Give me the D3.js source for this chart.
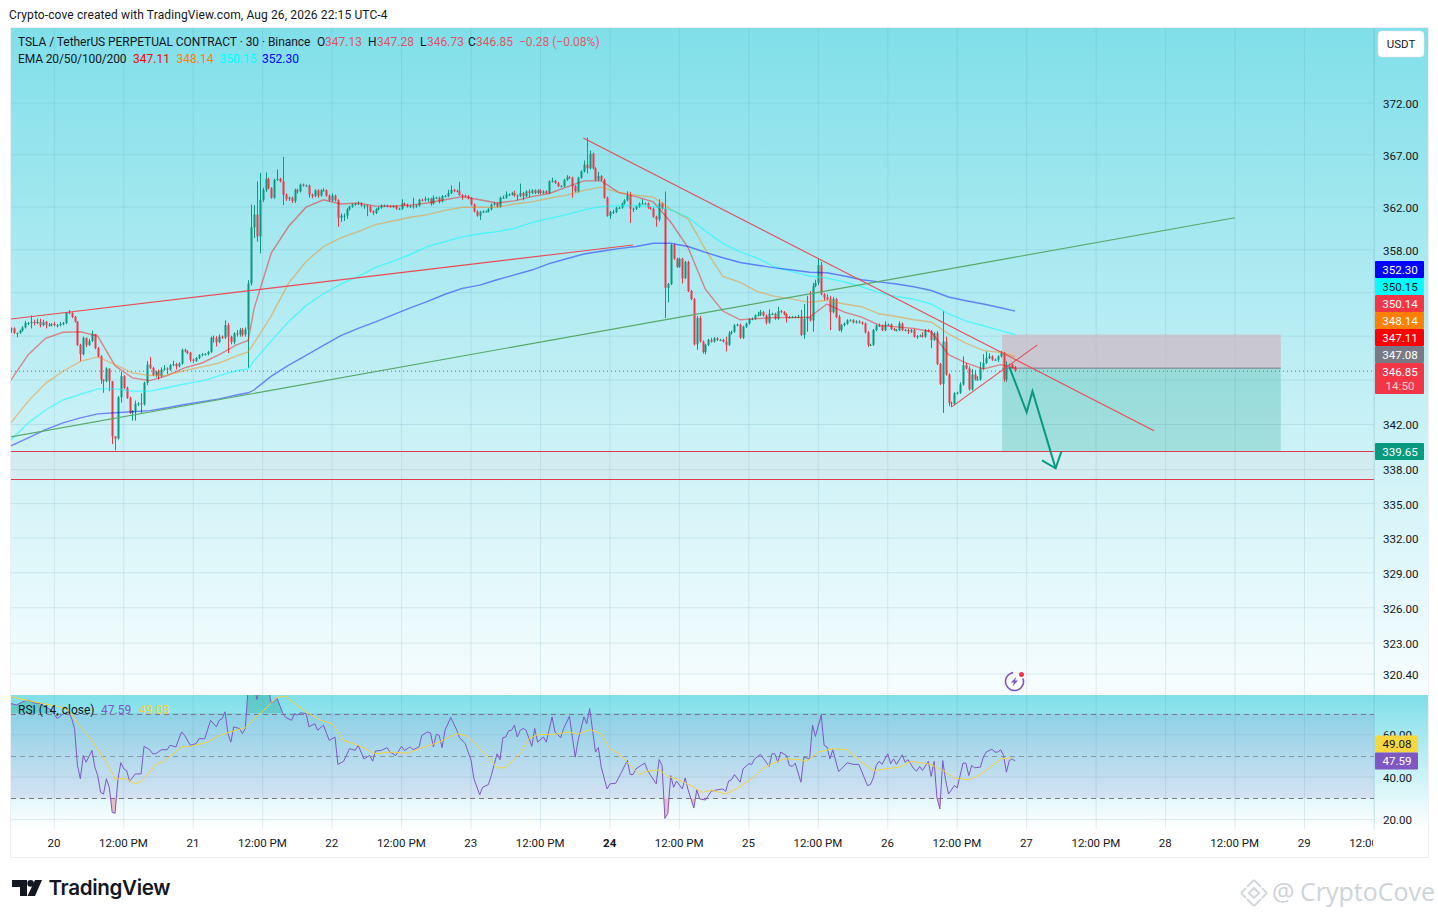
<!DOCTYPE html>
<html><head><meta charset="utf-8">
<script src="https://cdn.jsdelivr.net/npm/d3@7/dist/d3.min.js"></script>
<style>
html,body{margin:0;padding:0;background:#fff}
svg{display:block}
text{font-family:Roboto,"Liberation Sans",sans-serif;font-size:12px;fill:#131722}
</style></head><body><svg id="c" width="1438" height="918"></svg>
<script>
// ---- DATA ----
const firstBarTime = Date.UTC(2026,7,19,16,30);
const firstOpen = 350.6;
const closes = [
350.7,350.3,350.3,350.5,350.8,351.2,351.2,351.3,351.2,351.3,
351.0,351.3,351.0,351.0,351.1,351.0,351.0,351.1,351.2,352.2,
352.1,351.75,351.35,349.2,348.35,349.85,349.2,349.55,350.2,348.9,
348.15,346.05,345.9,347.05,345.9,340.95,340.75,344.45,346.35,345.3,
344.4,343.05,343.2,343.85,343.9,343.8,345.75,347.4,347.1,346.45,
346.75,346.35,346.95,347.05,346.95,347.35,347.45,347.25,347.5,348.75,
348.6,348.45,347.85,347.75,348,348.25,348.35,348.35,348.55,349.85,
349.8,349.45,349.95,349.85,351,349.95,349.45,350.25,350.15,350.55,
350.15,350.6,354.85,360.1,361.3,359.25,362.7,363.65,364.7,363.8,
362.9,364.6,364.7,364.45,363.2,362.8,362.9,362.6,363.65,363.5,
364.15,364.05,364.05,363.2,363.05,363.6,363.1,363.6,363.6,363.1,
362.65,363.1,362.65,361,361.2,361.2,361.8,362.05,362.25,362.3,
362.35,362.15,362.15,362.05,361.6,361.45,361.8,361.95,362.15,362.15,
362.1,362.05,362.1,361.85,361.85,362.35,362.25,362.05,362.1,362.05,
362.15,362.7,362.65,362.8,362.8,362.35,362.9,362.9,362.55,363.05,
363.05,363.35,363.65,363.55,363.5,363.15,363.1,363.05,362.85,362.25,
361.6,361.2,361.55,361.6,361.6,361.8,362.25,362.35,362.05,362.9,
362.9,363.2,363.2,363.35,363.1,363.05,363.35,363.05,363.5,363.35,
363.6,363.35,363.6,363.35,363.5,363.35,364.45,364.5,364.3,364,
364,364.6,364.85,364.8,364,363.5,364.8,365.4,366.05,365.7,
367.1,365.7,364.6,364.95,364.6,362.9,361.2,361.55,361.55,361.95,
361.95,362.35,362.65,363.1,361.85,361.85,362.05,362.35,362.35,362.35,
361.95,361.85,361.1,360.85,362.35,361.85,354.45,354.8,358.45,357.15,
356.4,357.15,355.35,356.85,354.15,353.4,349.25,351.65,349.5,348.55,
349.2,349.65,349.5,349.8,349.65,349.65,349.5,349.2,350.25,350.4,
351,351.05,349.85,350.85,351.15,351.55,351.6,351.9,351.95,352.2,
351.9,351.25,352.05,352.05,351.6,352.3,352.2,352,351.7,351.75,
351.75,351.75,351.75,350.1,351.6,351.75,351.45,354.6,354.9,356.55,
353.85,353.55,353.4,352.2,353.4,351.75,350.55,351,351.15,351.45,
351.45,351.25,351.35,351.25,351.15,350.35,349.2,349.2,350.55,350.95,
350.95,350.55,351.05,351.05,350.65,350.55,350.55,351.15,350.55,350.55,
350.4,350.55,349.95,350,350.05,349.95,350.55,350.45,349.65,350.25,
347.45,345.65,349.5,346.5,343.95,343.85,344.8,344.85,345.6,347.35,
347.05,345.15,346.5,346.05,346.05,347.05,347.55,348,348.15,347.85,
347.85,348.15,348.45,346.05,347.4,347.4,347.13,346.85];
const upperWicks = [
.1,.1,0,.1,.1,.2,.1,.6,.2,.3,
.3,.2,.1,.2,.1,.2,.1,.2,.1,0,
.2,.1,.1,0,.1,.1,0,.2,.3,0,
.1,.1,0,.1,0,0,0,.1,.4,.1,
.1,.1,.1,.3,.1,.9,.1,.3,.7,.1,
.1,.2,.2,.3,.1,.1,.3,.1,.1,.1,
.1,.1,.1,.1,.1,.1,.1,.1,.1,.1,
.2,.2,.2,.1,.45,.2,.1,.1,.3,.2,
.2,.2,.3,2.15,.9,3.15,2.55,.2,.6,.1,
.1,.1,.9,.1,2.35,.1,.1,.1,.1,.1,
.1,.1,.1,.1,.1,.1,.1,.1,.2,.1,
.1,.2,.1,.1,.2,.2,.1,.1,.1,.1,
.2,.1,.1,.1,.1,.1,.1,.1,.1,.1,
.1,.1,.1,.1,.1,.4,.1,.1,.1,.8,
.1,.1,.1,.2,.1,.1,.2,.1,.1,.1,
.1,.3,.4,.1,.1,.9,.1,.1,.1,.1,
.1,.1,.1,.1,.1,.1,.1,.1,.1,.1,
.2,.3,.1,.1,.2,.1,.9,.1,.1,.2,
.1,.1,.1,.1,.1,.1,.1,.3,.1,.1,
.1,.1,.2,.1,.1,.1,.1,.1,.4,2.6,
.3,.1,.1,.4,.1,.1,.1,.1,.2,.1,
.1,.1,.1,.4,.35,.1,.1,.1,.4,.1,
.1,.1,.1,.1,.4,.1,1.65,.1,.1,.1,
.1,.1,.1,.1,.1,.1,.1,.2,.2,.1,
.1,.1,.2,.1,.1,.1,.1,.45,.2,.1,
.1,.1,.1,.1,.1,.1,.1,.1,.3,.2,
.1,.1,.4,.1,.1,.4,.1,.1,.1,.1,
.1,.1,.2,.65,1.35,1.95,2.4,.3,.3,.6,
.3,.1,.3,.3,.2,.1,.2,.1,.1,.1,
.1,.1,.1,.1,.1,.1,.1,.1,.1,.1,
.2,.1,.3,.1,.1,.1,.1,.2,.1,.1,
.1,.1,.1,.1,.1,.3,.1,.1,.1,.1,
.2,.1,2.8,.45,.1,.1,.1,.1,.2,.8,
.2,.2,.5,.4,.3,.6,.8,.6,.3,.1,
.1,.1,.2,.1,.3,.1,.1,.15];
const lowerWicks = [
.3,.1,.4,.1,.1,.1,.2,.5,.2,.1,
.2,.1,.3,.1,.1,.1,.2,.1,.1,.1,
.1,.1,.1,.1,.65,.1,.2,.1,.1,.1,
.1,.4,1.05,.1,.9,.7,1.05,.1,.5,.1,
.1,.1,.7,.85,.2,.8,.1,.2,.1,.1,
.2,.3,.1,.1,.4,.1,.1,.3,.1,.1,
.1,.1,.2,.2,.1,.1,.1,.1,.1,.1,
.4,.4,.1,.1,.1,1.5,.2,.2,.2,.2,
.2,.2,3.5,.2,1,.5,1.6,.2,.2,.1,
.1,.1,.1,.1,1,.2,.2,.2,.2,.2,
.1,.1,.1,.3,.2,.1,.2,.1,.1,.1,
.1,.1,.1,.85,.4,.5,.3,.1,.1,.1,
.1,.1,.3,.9,.1,.2,.1,.1,.1,.1,
.1,.1,.1,.1,.1,.1,.1,.1,.1,.2,
.1,.1,.1,.1,.3,.2,.1,.1,.2,.1,
.1,.1,.1,.1,.1,.1,.4,.1,.1,.1,
.1,.1,.4,.1,.1,.1,.1,.1,.1,.1,
.1,.1,.1,.1,.1,.4,.1,.4,.1,.4,
.1,.1,.1,.1,.1,.1,.1,.1,.1,.1,
.1,.1,.1,.1,1.1,.1,.1,.1,.1,.5,
.1,.1,.1,.1,.1,.1,.1,.3,.2,.1,
.1,.1,.1,.1,1.35,.3,.1,.1,.1,.1,
.1,.1,.1,.7,.2,.1,2.8,1.35,.1,.1,
.1,.1,.5,.1,.1,.1,.1,.5,.1,.15,
.2,.1,.1,.1,.1,.1,.1,.6,.1,.1,
.1,.1,.1,.1,.1,.1,.1,.1,.1,.1,
.1,.2,.1,.1,.1,.1,.1,.1,.45,.1,
.1,.1,.1,.1,.35,1.2,.1,1.05,.1,.2,
.1,.3,.1,1.65,.1,.1,.1,.2,.1,.1,
.1,.1,.1,.1,.1,.1,.2,.1,.1,.1,
.1,.1,.1,.1,.1,.1,.1,.1,.1,.1,
.2,.1,.1,.2,.1,.1,.1,.1,.75,.1,
.1,.1,2.6,.1,.3,.3,.1,.1,.1,.1,
.1,.1,.1,.1,.1,.1,.1,.1,.1,.1,
.1,.2,.1,.2,.2,.1,.1,.12];

const emaBars = [0,6,12,18,24,30,36,42,48,54,60,66,72,78,82,84,90,96,102,108,114,120,126,132,138,144,150,156,162,168,174,180,186,192,198,204,210,216,222,228,234,240,246,252,258,264,270,276,282,288,294,300,306,312,318,324,330,336,342,347];
const ema20 = [346.0,348.3,349.8,350.35,350.4,350.0,347.3,346.2,345.95,346.4,347.1,347.55,348.3,349.2,349.6,352.5,357.7,360.2,362,362.7,362.3,362.4,362.1,362.1,362.2,362.4,362.7,363,362.7,362.4,362.6,363,363.3,363.9,364.5,364.5,363.4,363,362.5,360.6,358.2,354.3,352.3,351.5,351.6,351.7,351.7,351.75,352.95,352.2,351.75,351,350.85,350.7,350.4,348.3,347.55,347,347.4,347.11];
const ema50 = [342.15,344.1,345.7,346.8,347.7,348.1,347.4,346.65,346.4,346.45,346.85,347.2,347.55,348.2,348.55,349.35,351.85,354.9,356.9,358.3,359.1,359.7,360.35,360.7,361.05,361.3,361.7,362,362,362,362.3,362.5,362.85,363.15,363.6,363.9,363.4,363.15,362.95,361.8,360.9,358,355.5,354.95,354.1,353.65,353.4,353.1,353.3,352.95,352.7,352.05,351.8,351.5,351.3,350.2,349.35,348.7,348.5,348.14];
const ema100 = [340.6,342.15,343.3,344.2,344.7,345.2,345.2,345,345,345.3,345.65,345.9,346.4,346.85,347,347.75,349.55,351.35,352.8,353.9,354.8,355.5,356.35,356.9,357.55,358.3,358.75,359.2,359.5,359.7,360,360.55,360.95,361.3,361.75,362.05,362.15,362.15,362.05,361.75,361.05,359.75,358.6,357.8,357.2,356.4,355.95,355.55,355.35,355,354.55,354,353.65,353.4,352.95,352.05,351.4,350.95,350.5,350.15];
const ema200 = [340.1,340.8,341.55,342.15,342.6,342.95,343.05,343.15,343.25,343.5,343.8,344.05,344.3,344.65,344.85,345.1,346.35,347.35,348.25,349.15,350.05,350.7,351.3,351.95,352.6,353.2,353.85,354.4,354.7,355.2,355.65,356.1,356.7,357.15,357.6,357.85,358.1,358.3,358.6,358.6,358.3,357.75,357.25,356.8,356.55,356.3,356.1,355.9,355.85,355.55,355.2,355,354.8,354.55,354.2,353.6,353.25,352.95,352.6,352.3];
const emaColors = ["#ff0000","#ff8000","#00ffff","#0000ff"];

const rsiPoints = [[0,74.7],[2,74],[4,75.5],[6,76.3],[8,75],[10,74.7],[12,73.1],[14,71.6],[16,67.6],[18,69.7],[20,70.8],[21,67.6],[22,62.9],[23,45.5],[24,39.2],[25,50.2],[26,47],[28,52.6],[29,44.7],[30,40.7],[31,32.8],[32,32],[33,39.2],[34,35.2],[35,23.4],[36,22.9],[37,39.2],[38,46.8],[39,43.9],[40,43.1],[41,38],[43,41.5],[45,41.5],[46,54.5],[48,52.9],[49,51],[50,51],[52,52.9],[54,52.9],[55,55],[57,54.2],[59,61.3],[60,59.7],[62,55],[64,55.8],[65,58.1],[67,58.1],[69,66.8],[71,63.7],[72,66.8],[73,67.6],[74,70.8],[75,60.5],[76,56.5],[77,63.7],[79,62.9],[80,60.5],[81,62.9],[82,82.6],[83,85.8],[84,83.4],[85,76.6],[86,81.8],[87,81],[88,83.4],[89,81],[90,74.7],[92,77.1],[94,70],[95,68.1],[97,66.8],[98,70],[99,69.2],[100,70.3],[102,70],[103,63.7],[105,65.2],[106,62.1],[108,64.5],[110,57.3],[112,58.9],[113,46],[115,47.5],[117,53.4],[119,52.6],[120,55],[122,48.6],[124,50.2],[125,47.5],[126,52.3],[128,52.6],[130,53.9],[131,51.8],[133,50.2],[135,54.5],[136,52.6],[138,54.2],[139,52.9],[141,54.2],[142,59.7],[144,61.3],[145,60.8],[146,54.2],[147,60.2],[148,59.7],[149,53.9],[150,62.1],[152,68.1],[154,62.4],[155,58.6],[157,55.8],[159,47.9],[160,39.2],[162,31.7],[163,35.2],[165,36.5],[166,40.7],[168,51],[169,48.2],[170,58.6],[171,58.9],[172,61.8],[173,62.1],[174,64.5],[175,58.9],[176,62.1],[177,62.9],[178,62.1],[180,54.5],[181,62.9],[182,56.5],[184,58.9],[185,56.5],[187,68.4],[188,61.3],[190,58.6],[191,62.9],[193,68.7],[195,49.4],[196,57.3],[198,68.4],[199,65.2],[200,72.3],[202,51.8],[203,53.9],[204,44.7],[206,34.4],[207,36.8],[209,37.1],[211,42.3],[213,47.9],[214,41.2],[215,41.2],[216,43.9],[219,46.6],[220,43.1],[223,36.8],[224,48.3],[225,45.5],[226,20.5],[227,22.9],[228,40.7],[229,35.2],[230,38.1],[232,34.4],[233,39.6],[234,34],[236,25.4],[237,34],[238,29.7],[240,29.2],[242,33.3],[244,34],[246,34.4],[247,33.3],[248,38.1],[249,38.7],[250,41.2],[252,37.6],[253,43.9],[255,46.3],[256,46],[257,48.6],[259,50.7],[261,47],[262,45],[263,51],[264,51],[265,47],[266,51.8],[268,50.2],[269,45.5],[270,45],[271,46.6],[273,37.6],[274,49.4],[276,48.6],[277,64.5],[278,59.2],[280,69.2],[281,55],[282,54.2],[283,48.6],[284,52.9],[286,42.6],[287,43.9],[289,46.8],[291,46],[293,46],[296,36],[297,36.5],[298,39.6],[299,45.5],[300,47.5],[301,46],[303,51],[304,46.3],[305,48.6],[306,46],[308,50.5],[309,47],[310,48.2],[312,43.9],[313,42.8],[314,45],[315,43.1],[317,47.4],[318,40.3],[319,47.4],[320,30.2],[321,25],[322,47.8],[323,38.4],[324,32],[326,36],[327,34.9],[329,46.6],[330,46.6],[331,40.7],[332,45.5],[333,44.4],[335,44.7],[336,49.4],[337,51.8],[339,53.2],[340,51.8],[341,51.8],[342,52.9],[343,50.2],[344,42.3],[345,47.8],[346,48.6],[347,47.59]];
const rsiMaPoints = [[0,77.9],[8,75.5],[17,73.1],[20,71.6],[24,63.7],[28,57.3],[33,47],[36,39.2],[40,39.2],[43,36.8],[45,38],[48,42.3],[50,46],[53,47.5],[56,51],[59,54.2],[62,54.5],[68,56.5],[72,59.7],[77,61.8],[81,63.3],[84,67.6],[88,72.3],[92,77.6],[95,78.2],[98,74.7],[102,70.8],[107,66.8],[111,65.2],[115,57.3],[120,55],[126,51],[131,51.8],[137,51.3],[141,53.4],[148,56.5],[154,60.5],[158,59.2],[162,53.4],[166,47.8],[168,44.4],[171,44.4],[174,48.6],[176,51],[179,58.1],[182,60],[188,60.2],[193,61.3],[196,60.2],[200,62.4],[204,60.5],[207,53.4],[210,51],[213,47],[217,41.2],[220,42.8],[224,43.4],[227,40.3],[231,38.7],[236,35.2],[239,32.8],[242,33.9],[247,32],[251,34.7],[257,40.3],[260,44.4],[267,48.6],[272,48.3],[275,47.5],[279,51.8],[284,53.4],[289,52.9],[294,47],[298,43.1],[307,44.7],[311,47.4],[318,46],[322,43.1],[326,39.6],[331,38.7],[335,41.2],[340,46.3],[342,48.6],[346,49.08]];

const priceTicks = [372,367,362,358,354,350,346,342,338,335,332,329,326,323,320.4];
const hiddenPriceTicks = [354,350,346];
const rsiTicks = [60,40,20];
const rsiGuides = [70,50,30];
const dayNumbers = [20,21,22,23,24,25,26,27,28,29];
const lastPrice = 346.85, stopPrice = 350.14, entryPrice = 347.08, targetPrice = 339.65, zoneFloorPrice = 337.17;
const emaTags = [[352.30,"#0000ff","#fff"],[350.15,"#00ffff","#131722"],[350.14,"#f23645","#fff"],[348.14,"#ff8000","#fff"],[347.11,"#ff0000","#fff"],[347.08,"#787b86","#fff"]];

// ---- drawing tool anchors: [bar index, price] ----
const redRiseLine = [[0,351.57],[215,358.44]];
const greenLine = [[0,340.9],[423,361.0]];
const redFallLine = [[197.8,368.6],[395,341.45]];
const wedgeLine = [[325.2,343.6],[354.7,349.2]];
const arrowPath = [[345,347.2],[351,343.1],[353,345],[361,338.1]];
const arrowHead = [[356.3,338.8],[361,338.1],[363,339.6]];
const positionBars = [342.5,438.8];

// ---- SCALES ----
const svg = d3.select("#c");
const defs = svg.append("defs");
const PL=11, PR=1374, PT=28, PB=694, RT=695, RB=829, FR=1428;
const HALF = 1800e3;
const timeOf = i => new Date(firstBarTime + i*HALF);
const x = d3.scaleUtc().domain([Date.UTC(2026,7,20),Date.UTC(2026,7,29)]).range([54.3,1304.5]);
const xb = i => x(timeOf(i));
const y = d3.scaleLog().domain([320.4,372]).range([674,103]);
const yr = d3.scaleLinear().domain([20,70]).range([819.5,713.5]);

// backgrounds
function grad(id,stops){const g=defs.append("linearGradient").attr("id",id).attr("x1",0).attr("x2",0).attr("y1",0).attr("y2",1);
  stops.forEach(s=>g.append("stop").attr("offset",s[0]).attr("stop-color",s[1]));}
grad("bgMain",[[0,"#80dfe9"],[.5,"#bdeef4"],[1,"#f7fdfe"]]);
grad("bgRsi",[[0,"#7fdfe9"],[1,"#ffffff"]]);
defs.append("clipPath").attr("id","clipMain").append("rect").attr("x",PL).attr("y",PT).attr("width",PR-PL).attr("height",PB-PT);
defs.append("clipPath").attr("id","clipRsi").append("rect").attr("x",PL).attr("y",RT).attr("width",PR-PL).attr("height",RB-RT);
defs.append("clipPath").attr("id","clipOver").append("rect").attr("x",PL).attr("y",RT).attr("width",PR-PL).attr("height",yr(70)-RT);
defs.append("clipPath").attr("id","clipUnder").append("rect").attr("x",PL).attr("y",yr(30)).attr("width",PR-PL).attr("height",RB-yr(30));

svg.append("rect").attr("x",10.5).attr("y",27.5).attr("width",FR-10).attr("height",830).attr("fill","#fff").attr("stroke","#eceef2");
svg.append("rect").attr("x",PL).attr("y",PT).attr("width",FR-PL).attr("height",PB-PT).attr("fill","url(#bgMain)");
svg.append("rect").attr("x",PL).attr("y",RT).attr("width",FR-PL).attr("height",RB-RT).attr("fill","url(#bgRsi)");

// grid
const days = dayNumbers.map(d=>Date.UTC(2026,7,d));
const noons = dayNumbers.map(d=>Date.UTC(2026,7,d,12));
const timeTicks = days.concat(noons).sort(d3.ascending);
const gridCol = "rgba(90,150,175,.17)";
const grid = svg.append("g");
grid.selectAll(".v").data(timeTicks).join("line").attr("x1",d=>x(d)).attr("x2",d=>x(d)).attr("y1",PT).attr("y2",PB).attr("stroke",gridCol).attr("clip-path","url(#clipMain)");
grid.selectAll(".v2").data(timeTicks).join("line").attr("x1",d=>x(d)).attr("x2",d=>x(d)).attr("y1",RT).attr("y2",RB).attr("stroke",gridCol).attr("clip-path","url(#clipRsi)");
grid.selectAll(".h").data(priceTicks).join("line").attr("x1",PL).attr("x2",PR).attr("y1",d=>y(d)).attr("y2",d=>y(d)).attr("stroke",gridCol);
grid.selectAll(".h2").data(rsiTicks).join("line").attr("x1",PL).attr("x2",PR).attr("y1",d=>yr(d)).attr("y2",d=>yr(d)).attr("stroke",gridCol);
svg.append("line").attr("x1",PR+.5).attr("x2",PR+.5).attr("y1",PT).attr("y2",RB).attr("stroke","rgba(90,150,175,.2)");

// support band + position tool
const main = svg.append("g").attr("clip-path","url(#clipMain)");
main.append("rect").attr("x",PL).attr("width",PR-PL).attr("y",y(targetPrice)).attr("height",y(zoneFloorPrice)-y(targetPrice)).attr("fill","rgba(235,190,190,.12)");
const [pA,pB] = positionBars.map(xb);
main.append("rect").attr("x",pA).attr("width",pB-pA).attr("y",y(stopPrice)).attr("height",y(entryPrice)-y(stopPrice)).attr("fill","rgba(206,184,194,.72)");
main.append("rect").attr("x",pA).attr("width",pB-pA).attr("y",y(entryPrice)).attr("height",y(targetPrice)-y(entryPrice)).attr("fill","rgba(8,153,129,.22)");
main.append("line").attr("x1",pA).attr("x2",pB).attr("y1",y(entryPrice)).attr("y2",y(entryPrice)).attr("stroke","#787b86").attr("stroke-width",1);

const redHz="#dc3f48";
[targetPrice,zoneFloorPrice].forEach(p=>main.append("line").attr("x1",PL).attr("x2",PR).attr("y1",Math.round(y(p))+.5).attr("y2",Math.round(y(p))+.5).attr("stroke",redHz));

// candles
const candles = closes.map((c,i)=>{const o=i?closes[i-1]:firstOpen;return {i,o,c,h:Math.max(o,c)+upperWicks[i],l:Math.min(o,c)-lowerWicks[i]};});
const up = "#089981", down="#f23645";
const gC = main.append("g");
gC.selectAll("line").data(candles).join("line")
 .attr("x1",d=>Math.round(xb(d.i))+.5).attr("x2",d=>Math.round(xb(d.i))+.5)
 .attr("y1",d=>y(d.h)).attr("y2",d=>y(d.l)).attr("stroke",d=>d.c>=d.o?up:down);
gC.selectAll("rect").data(candles).join("rect")
 .attr("x",d=>Math.round(xb(d.i))-.5).attr("width",2)
 .attr("y",d=>y(Math.max(d.o,d.c))).attr("height",d=>Math.max(1,y(Math.min(d.o,d.c))-y(Math.max(d.o,d.c))))
 .attr("fill",d=>d.c>=d.o?up:down);

// EMAs
const priceLine = d3.line().x(d=>xb(d[0])).y(d=>y(d[1]));
[ema20,ema50,ema100,ema200].forEach((s,k)=>{
  main.append("path").attr("d",priceLine(d3.zip(emaBars,s))).attr("fill","none").attr("stroke",emaColors[k]).attr("stroke-opacity",k==2?.55:.45).attr("stroke-width",1.4);
});

// dotted last price
main.append("line").attr("x1",PL).attr("x2",PR).attr("y1",y(lastPrice)+.5).attr("y2",y(lastPrice)+.5).attr("stroke",down).attr("stroke-dasharray","1 3");

// drawings
const drawn = (pts,col,w)=>main.append("path").attr("d",priceLine(pts)).attr("fill","none").attr("stroke",col).attr("stroke-width",w).attr("stroke-linejoin","miter");
drawn(redRiseLine,"#ea4a55",1.1);
drawn(greenLine,"#56a868",1.1);
drawn(redFallLine,"#ea4a55",1.1);
drawn(wedgeLine,"#ea4a55",1.1);
drawn(arrowPath,"#089981",2);
drawn(arrowHead,"#089981",2);

// price axis
const axP = svg.append("g").attr("transform",`translate(${PR},.7)`).call(
  d3.axisRight(y).tickValues(priceTicks.filter(t=>!hiddenPriceTicks.includes(t))).tickFormat(d3.format(".2f")).tickSize(0).tickPadding(9));
axP.select(".domain").remove();
axP.selectAll("text").style("font-size","11.6px").style("font-family","Roboto,sans-serif").attr("fill","#131722");

// tags, stacked upward from the last price
const TH=17, TX=1375, TW=49, TW2=43;
const lastTextY = y(lastPrice)+.8;
const tagG = svg.append("g");
function tag(cy,val,bg,fg,w){
  tagG.append("rect").attr("x",TX).attr("y",cy-TH/2).attr("width",w).attr("height",TH).attr("rx",1).attr("fill",bg);
  tagG.append("text").attr("x",TX+w/2+.5).attr("y",cy+.3).attr("dy",".35em").attr("text-anchor","middle").style("font-size","11.6px").style("fill",fg).text(val);
}
emaTags.slice().reverse().forEach((t,k)=>tag(lastTextY-TH*(k+1),t[0].toFixed(2),t[1],t[2],TW));
tagG.append("rect").attr("x",TX).attr("y",lastTextY-8.5).attr("width",TW).attr("height",31).attr("rx",1).attr("fill",down);
tagG.append("text").attr("x",TX+25).attr("y",lastTextY).attr("dy",".35em").attr("text-anchor","middle").style("font-size","11.6px").style("fill","#fff").text(lastPrice.toFixed(2));
tagG.append("text").attr("x",TX+25).attr("y",lastTextY+14).attr("dy",".35em").attr("text-anchor","middle").style("font-size","11.6px").style("fill","rgba(255,255,255,.75)").text("14:50");
tag(y(targetPrice)+.5,targetPrice.toFixed(2),up,"#fff",TW);

// USDT button
svg.append("rect").attr("x",1378).attr("y",31).attr("width",46).attr("height",26).attr("rx",4).attr("fill","#fff").attr("stroke","#e0e3eb").attr("stroke-opacity",.6);
svg.append("text").attr("x",1401).attr("y",44).attr("dy",".35em").attr("text-anchor","middle").style("font-size","11.5px").text("USDT");

// flash icon
const icon = svg.append("g").attr("transform","translate(1014.5,681.5)");
icon.append("circle").attr("r",9).attr("fill","#fff").attr("fill-opacity",.35).attr("stroke","#7e57c2").attr("stroke-width",1.6).attr("stroke-dasharray","44 13").attr("transform","rotate(-20)");
icon.append("path").attr("d","M2,-5 L-3.5,1 L-.5,1 L-2,5 L3.5,-1 L.5,-1 Z").attr("fill","#7e57c2");
icon.append("circle").attr("cx",7).attr("cy",-7).attr("r",2.5).attr("fill","#f23645");

// RSI pane
const rsi = svg.append("g").attr("clip-path","url(#clipRsi)");
rsi.append("rect").attr("x",PL).attr("width",PR-PL).attr("y",yr(70)).attr("height",yr(30)-yr(70)).attr("fill","rgba(126,87,194,.13)");
rsiGuides.forEach(v=>rsi.append("line").attr("x1",PL).attr("x2",PR).attr("y1",Math.round(yr(v))+.5).attr("y2",Math.round(yr(v))+.5).attr("stroke",v==50?"rgba(120,123,134,.7)":"#787b86").attr("stroke-dasharray","5 4"));
const rsiLine = d3.line().x(d=>xb(d[0])).y(d=>yr(d[1]));
rsi.append("path").attr("clip-path","url(#clipOver)").attr("d",d3.area().x(d=>xb(d[0])).y0(yr(70)).y1(d=>yr(d[1]))(rsiPoints)).attr("fill","rgba(8,153,129,.3)");
rsi.append("path").attr("clip-path","url(#clipUnder)").attr("d",d3.area().x(d=>xb(d[0])).y0(yr(30)).y1(d=>yr(d[1]))(rsiPoints)).attr("fill","rgba(242,54,69,.3)");
rsi.append("path").attr("d",rsiLine(rsiPoints)).attr("fill","none").attr("stroke","#7e57c2").attr("stroke-width",1);
rsi.append("path").attr("d",rsiLine(rsiMaPoints)).attr("fill","none").attr("stroke","#f7d13e").attr("stroke-width",1);

const axR = svg.append("g").attr("transform",`translate(${PR},.3)`).call(d3.axisRight(yr).tickValues(rsiTicks).tickFormat(d3.format(".2f")).tickSize(0).tickPadding(9));
axR.select(".domain").remove();
axR.selectAll("text").style("font-size","11.6px").style("font-family","Roboto,sans-serif").attr("fill","#131722");
// the RSI MA tag stacks directly above the RSI tag
const rsiTagY = yr(47.59);
tag(rsiTagY-TH,"49.08","#f7d73f","#131722",TW2);
tag(rsiTagY,"47.59","#7e57c2","#fff",TW2);
tagG.raise();

// time axis
const fmt = d=>{const t=new Date(d);return t.getUTCHours()==12?"12:00 PM":String(t.getUTCDate());};
defs.append("clipPath").attr("id","clipTimeT").append("rect").attr("x",PL).attr("y",-4).attr("width",PR-PL).attr("height",30);
const axT = svg.append("g").attr("transform","translate(-.8,834.5)").attr("clip-path","url(#clipTimeT)").call(d3.axisBottom(x).tickValues(timeTicks.filter(d=>d<Date.UTC(2026,7,29,13))).tickFormat(fmt).tickSize(0).tickPadding(4));
axT.select(".domain").remove();
axT.selectAll("text").style("font-size","11.5px").style("font-family","Roboto,sans-serif").attr("fill","#131722")
   .filter(d=>new Date(d).getUTCDate()==24&&new Date(d).getUTCHours()==0).style("font-weight",700);

// header + legends
const t0 = svg.append("g");
const put = (xx,yy,s,col,extra)=>{const n=t0.append("text").attr("x",xx).attr("y",yy).attr("dy",".35em").text(s);if(col)n.style("fill",col);if(extra)n.style("fill-opacity",extra);return n;};
put(9,15,"Crypto-cove created with TradingView.com, Aug 26, 2026 22:15 UTC-4").style("letter-spacing",".12px");
put(18,42,"TSLA / TetherUS PERPETUAL CONTRACT · 30 · Binance").style("letter-spacing","-.06px");
const red80="#f23645";
put(317,42,"O");put(325,42,"347.13",red80,.85);
put(368,42,"H");put(377,42,"347.28",red80,.85);
put(420,42,"L");put(427,42,"346.73",red80,.85);
put(468,42,"C");put(476,42,"346.85",red80,.85);
put(519,42,"−0.28 (−0.08%)",red80,.8);
put(18,59,"EMA 20/50/100/200").style("letter-spacing","-.12px");
put(133,59,"347.11","#ff0000");put(176.5,59,"348.14","#ff8000");put(219.5,59,"350.15","#00ffff");put(262,59,"352.30","#0000ff");
put(18,710,"RSI (14, close)");
put(101,710,"47.59","#7e57c2");put(139,710,"49.08","#f7d13e");

// logo
const logo = svg.append("g").attr("fill","#131722");
logo.append("path").attr("d","M12,880 H27 V896 H20 V887 H12 Z M35,880 H42 L35,896 H27.5 Z");
logo.append("circle").attr("cx",30.6).attr("cy",883.4).attr("r",3.3);
svg.append("text").attr("x",48.5).attr("y",895).style("font-family","Inter,Lato,sans-serif").style("font-size","20.6px").style("font-weight",600).style("letter-spacing","-.35px").text("TradingView");

// watermark
const wm = svg.append("g").attr("transform","translate(1254,893)").attr("fill","none").attr("stroke","#d3d8dd").attr("stroke-width",2.2);
wm.append("path").attr("d","M0,-13 L7,-6 M0,-13 L-7,-6 M-13,0 L-8,-5 M-13,0 L-8,5 M13,0 L8,-5 M13,0 L8,5 M0,13 L7,6 M0,13 L-7,6");
wm.append("path").attr("d","M0,-5 L5,0 L0,5 L-5,0 Z");
const wmFont = s=>s.style("font-size","25px").style("font-family","'Open Sans',sans-serif").style("font-weight",400).style("fill","#cdd3d8");
wmFont(svg.append("text").attr("x",1272).attr("y",901).text("@"));
wmFont(svg.append("text").attr("x",1300).attr("y",901).text("CryptoCove"));
</script></body></html>
